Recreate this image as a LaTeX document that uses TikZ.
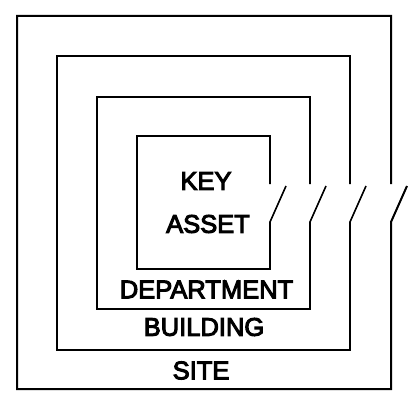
\documentclass[tikz,border=0pt]{standalone}
\usepackage{fontspec}
\setmainfont{Liberation Sans}
\newfontface\lblfont{Liberation Sans}[FakeBold=4]
\begin{document}
\begin{tikzpicture}[x=1pt,y=-1pt,
  wall/.style={line width=1.6pt,line join=miter},
  lbl/.style={font=\lblfont\fontsize{25.5}{30}\selectfont,inner sep=0pt}]
\useasboundingbox (0,0) rectangle (420,401);
% outer (site)
\draw[wall,line width=2pt] (391,184) -- (391,16) -- (17,16) -- (17,389) -- (391,389) -- (391,222) -- (407,186);
% building
\draw[wall] (350,184) -- (350,56) -- (57,56) -- (57,350) -- (350,350) -- (350,222) -- (366,186);
% department
\draw[wall] (310,184) -- (310,97) -- (97,97) -- (97,309) -- (310,309) -- (310,222) -- (326,186);
% key asset
\draw[wall] (270,184) -- (270,136) -- (137,136) -- (137,269) -- (270,269) -- (270,222) -- (286,186);
\node[lbl] (key) at (206,181) {KEY};
\node[lbl] (asset) at (208,224) {ASSET};
\node[lbl] (dept) at (206.5,289.5) {DEPARTMENT};
\node[lbl] (bldg) at (204,327) {BUILDING};
\node[lbl] (site) at (201,370.5) {SITE};
\end{tikzpicture}
\end{document}
